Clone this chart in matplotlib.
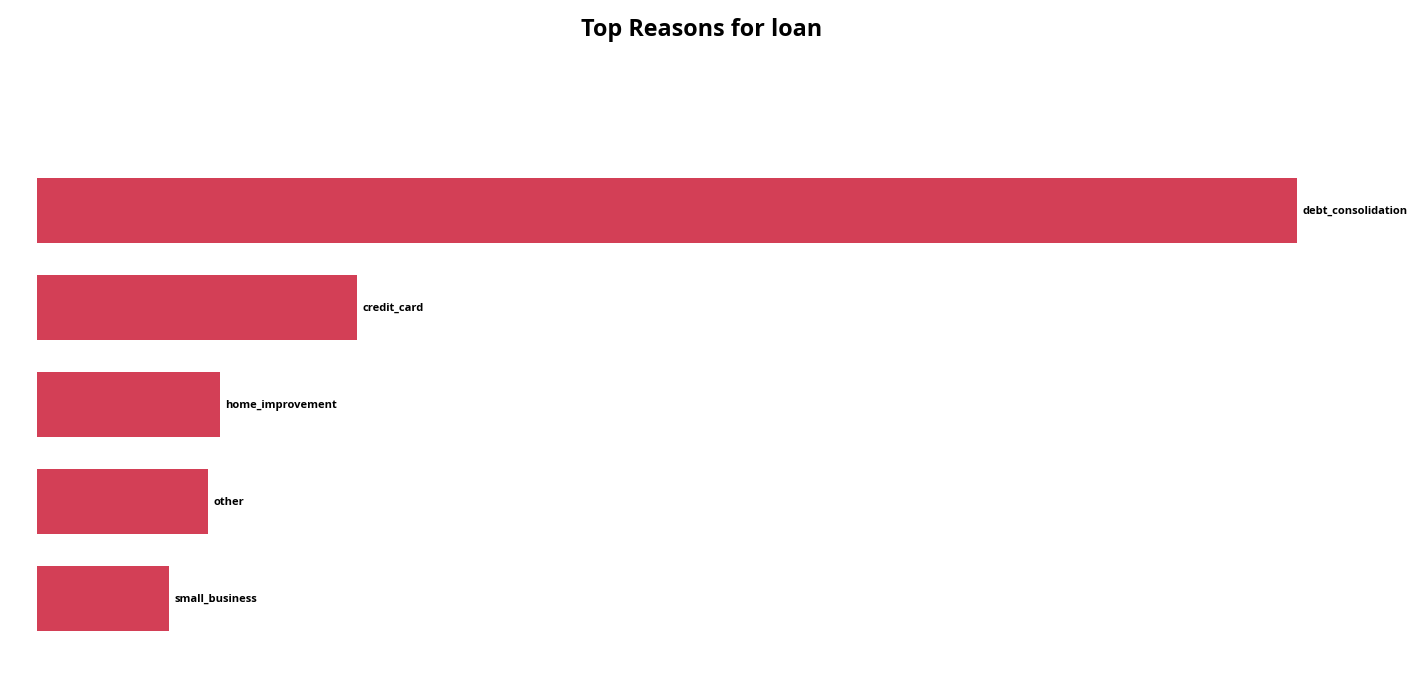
import matplotlib.pyplot as plt

# Data (bar lengths relative to one another)
reasons = ['debt_consolidation', 'credit_card', 'home_improvement', 'other', 'small_business']
counts = [18600, 4720, 2700, 2520, 1950]

BAR_COLOR = '#D33F56'
W, H, DPI = 1410, 678, 100

fig = plt.figure(figsize=(W / DPI, H / DPI), dpi=DPI)
# axes placed in pixel terms: bars start at x=37, rows span y=162..647
left, right = 37, 1410
top, bottom = 162, 647
ax = fig.add_axes([left / W, 1 - bottom / H, (right - left) / W, (bottom - top) / H])

y = list(range(len(reasons)))
ax.barh(y, counts, height=0.67, color=BAR_COLOR)

for yi, val, name in zip(y, counts, reasons):
    ax.text(val + counts[0] * 0.0045, yi + 0.012, name, va='center', ha='left',
            fontsize=8, fontweight='bold', family=['Open Sans', 'DejaVu Sans'])

ax.set_ylim(len(reasons) - 0.5, -0.5)
ax.set_xlim(0, counts[0] * (right - left) / 1260)
ax.axis('off')

fig.text(702 / W, 1 - 29.5 / H, 'Top Reasons for loan', ha='center', va='center',
         fontsize=16.8, fontweight='bold', family=['Open Sans', 'DejaVu Sans'])

fig.savefig('out.png', dpi=DPI, facecolor='white')
